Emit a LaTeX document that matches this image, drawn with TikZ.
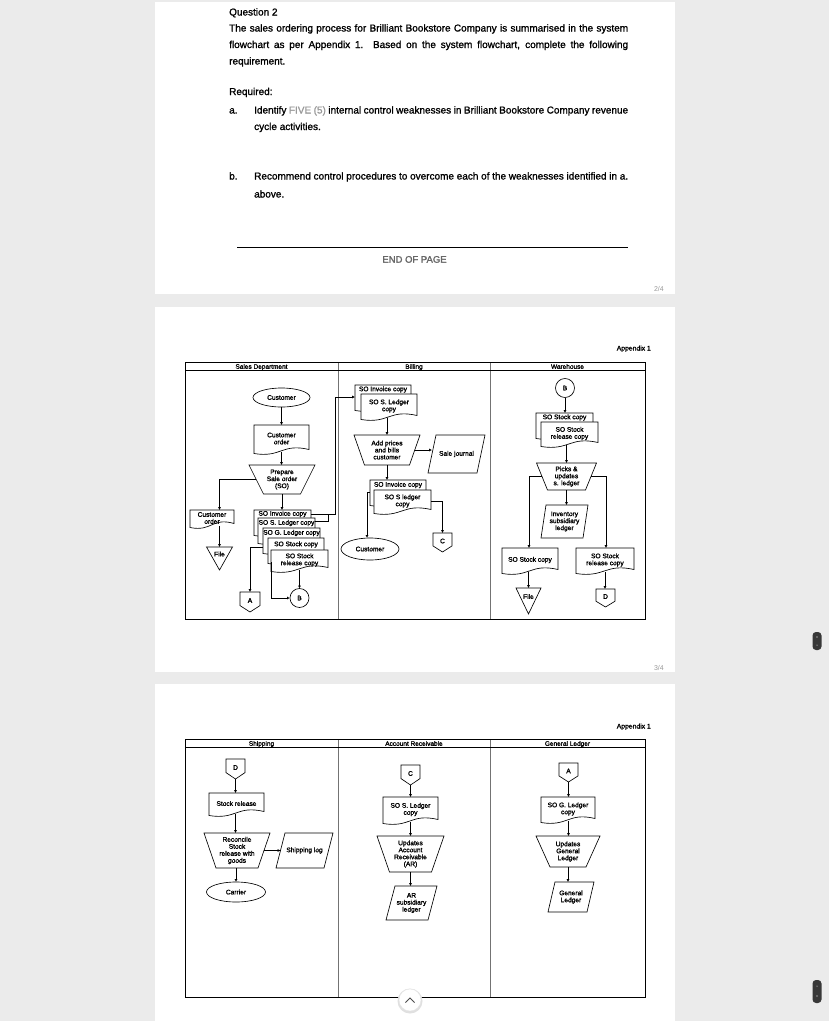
\documentclass[tikz,border=0pt]{standalone}
\usepackage{fontspec}
\setmainfont{Liberation Sans}
\newfontfamily\hvy{Liberation Sans}[FakeBold=1.2]
\newfontfamily\hvyb{Liberation Sans}[FakeBold=1.6]
\usetikzlibrary{shapes.geometric,arrows.meta,calc}

\tikzset{
  shp/.style={draw=black, fill=white, line width=0.65pt, line join=miter},
  lbl/.style={inner sep=0pt, align=center, font=\hvyb\fontsize{6.6}{7}\selectfont},
  ell/.style={shape=ellipse, draw=black, fill=white, line width=0.65pt, inner sep=0pt, font=\hvyb\fontsize{6.6}{7}\selectfont},
  circ/.style={shape=circle, draw=black, fill=white, line width=0.65pt, inner sep=0pt, minimum size=19pt, font=\hvyb\fontsize{6.6}{7}\selectfont},
  conn/.style={draw=black, line width=0.6pt, -{Triangle[open,length=2.6pt,width=2.6pt]}},
  plain/.style={draw=black, line width=0.6pt},
  body/.style={anchor=base west, inner sep=0pt, font=\hvy\fontsize{10}{12}\selectfont},
  hdr/.style={anchor=base, inner sep=0pt, font=\hvyb\fontsize{6.5}{7}\selectfont},
  frame/.style={draw=black, line width=0.8pt},
  lane/.style={draw=black!55, line width=0.7pt},
  pagenum/.style={anchor=base east, inner sep=0pt, text=black!40, font=\fontsize{7}{8}\selectfont},
  appx/.style={anchor=base east, inner sep=0pt, font=\hvyb\fontsize{6.8}{8}\selectfont},
}

% document shape: name, x0, x1, ytop, ybottom, text
\newcommand\rsdoc[6]{%
  \pgfmathsetmacro\rsxm{(#2+#3)/2}\pgfmathsetmacro\rsym{(#4+#5)/2}%
  \pgfmathsetmacro\rsw{#3-#2}\pgfmathsetmacro\rsh{#5-#4}%
  \pgfmathsetmacro\rsp{#5-2.5}\pgfmathsetmacro\rsq{#5-9}\pgfmathsetmacro\rsr{#5+6}\pgfmathsetmacro\rsz{#5+1.5}%
  \draw[shp] (#2,#4) -- (#3,#4) -- (#3,\rsp) .. controls (\rsxm,\rsq) and (\rsxm,\rsr) .. (#2,\rsz) -- cycle;
  \node[lbl, minimum width=\rsw pt, minimum height=\rsh pt] (#1) at (\rsxm,\rsym) {#6};}
% stacked document with label on its top strip: name, x0, x1, ytop, ybottom, label y, text
\newcommand\rsdocs[7]{%
  \pgfmathsetmacro\rsxm{(#2+#3)/2}\pgfmathsetmacro\rsym{(#4+#5)/2}%
  \pgfmathsetmacro\rsw{#3-#2}\pgfmathsetmacro\rsh{#5-#4}%
  \pgfmathsetmacro\rsp{#5-2.5}\pgfmathsetmacro\rsq{#5-9}\pgfmathsetmacro\rsr{#5+6}\pgfmathsetmacro\rsz{#5+1.5}%
  \draw[shp] (#2,#4) -- (#3,#4) -- (#3,\rsp) .. controls (\rsxm,\rsq) and (\rsxm,\rsr) .. (#2,\rsz) -- cycle;
  \node[lbl, minimum width=\rsw pt, minimum height=\rsh pt] (#1) at (\rsxm,\rsym) {};
  \node[lbl] (#1-t) at (\rsxm,#6) {#7};}
% manual operation: name, cx, ytop, ybottom, top half width, bottom half width, text
\newcommand\rsmanop[7]{%
  \pgfmathsetmacro\rsa{#2-#5}\pgfmathsetmacro\rsb{#2+#5}%
  \pgfmathsetmacro\rsc{#2-#6}\pgfmathsetmacro\rsd{#2+#6}%
  \pgfmathsetmacro\rsym{(#3+#4)/2}\pgfmathsetmacro\rsw{#5+#6}\pgfmathsetmacro\rsh{#4-#3}%
  \draw[shp] (\rsa,#3) -- (\rsb,#3) -- (\rsd,#4) -- (\rsc,#4) -- cycle;
  \node[lbl, minimum width=\rsw pt, minimum height=\rsh pt] (#1) at (#2,\rsym) {#7};}
% parallelogram: name, top-left x, top-right x, slant, ytop, ybottom, text
\newcommand\rspar[7]{%
  \pgfmathsetmacro\rsa{#2-#4}\pgfmathsetmacro\rsb{#3-#4}%
  \pgfmathsetmacro\rsxm{(#2+#3-#4)/2}\pgfmathsetmacro\rsym{(#5+#6)/2}%
  \pgfmathsetmacro\rsw{#3-#2}\pgfmathsetmacro\rsh{#6-#5}%
  \draw[shp] (#2,#5) -- (#3,#5) -- (\rsb,#6) -- (\rsa,#6) -- cycle;
  \node[lbl, minimum width=\rsw pt, minimum height=\rsh pt] (#1) at (\rsxm,\rsym) {#7};}
% off-page connector: name, cx, ytop, ybottom, half width, text
\newcommand\rsoff[6]{%
  \pgfmathsetmacro\rsa{#2-#5}\pgfmathsetmacro\rsb{#2+#5}%
  \pgfmathsetmacro\rsk{#3+0.68*(#4-#3)}\pgfmathsetmacro\rsym{(#3+#4)/2}%
  \pgfmathsetmacro\rsw{2*#5}\pgfmathsetmacro\rsh{#4-#3}%
  \draw[shp] (\rsa,#3) -- (\rsb,#3) -- (\rsb,\rsk) -- (#2,#4) -- (\rsa,\rsk) -- cycle;
  \node[lbl, minimum width=\rsw pt, minimum height=\rsh pt] (#1) at (#2,\rsym) {\raisebox{1.5pt}[\height][\depth]{#6}};}
% file (inverted triangle): name, cx, ytop, ybottom, half width, text
\newcommand\rstri[6]{%
  \pgfmathsetmacro\rsa{#2-#5}\pgfmathsetmacro\rsb{#2+#5}%
  \pgfmathsetmacro\rsym{(#3+#4)/2}\pgfmathsetmacro\rsw{2*#5}\pgfmathsetmacro\rsh{#4-#3}%
  \draw[shp] (\rsa,#3) -- (\rsb,#3) -- (#2,#4) -- cycle;
  \node[lbl, minimum width=\rsw pt, minimum height=\rsh pt] (#1) at (#2,\rsym) {\raisebox{4.5pt}[\height][\depth]{#6}};}

\begin{document}
\begin{tikzpicture}[x=1pt,y=-1pt]
\useasboundingbox (0,0) rectangle (829,1021);
\fill[black!8] (0,0) rectangle (829,1021);

% pages
\fill[white] (155,2) rectangle (675,294);
\fill[white] (155,307) rectangle (675,672);
\fill[white] (155,684) rectangle (675,1021);

% ---------------- page 1 text ----------------
\node[body] (q) at (229,15.5) {Question 2};
\node[body] (l1) at (229,31.5) {\makebox[399pt][s]{The sales ordering process for Brilliant Bookstore Company is summarised in the system}};
\node[body] (l2) at (229,48) {\makebox[399pt][s]{flowchart as per Appendix 1. Based on the system flowchart, complete the following}};
\node[body] (l3) at (229,64.5) {requirement.};
\node[body] (req) at (229,95) {Required:};
\node[body] (la) at (229,113.5) {a.};
\node[body] (la1) at (254,113.5) {\makebox[374pt][s]{Identify \textcolor{black!40}{FIVE (5)} internal control weaknesses in Brilliant Bookstore Company revenue}};
\node[body] (la2) at (254,130) {cycle activities.};
\node[body] (lb) at (229,179.5) {b.};
\node[body] (lb1) at (254,179.5) {\makebox[374pt][s]{Recommend control procedures to overcome each of the weaknesses identified in a.}};
\node[body] (lb2) at (254,197.5) {above.};
\coordinate (rulea) at (237,247.3);
\coordinate (ruleb) at (628,247.3);
\draw[line width=1.3pt] (rulea) -- (ruleb);
\node[anchor=base, inner sep=0pt, text=black!60, font=\hvyb\fontsize{9.5}{11}\selectfont] (eop) at (414.5,262.7) {END OF PAGE};
\node[pagenum] (p2) at (664,291) {2/4};

% ---------------- page 2: Appendix 1 ----------------
\node[appx] (apx1) at (651,350.5) {Appendix 1};
\draw[lane] (338.5,362) -- (338.5,619);
\draw[lane] (490,362) -- (490,619);
\draw[frame] (185,362) rectangle (645,619);
\draw[frame] (185,370.5) -- (645,370.5);
\node[hdr] (h1) at (261.5,368.8) {Sales Department};
\node[hdr] (h2) at (414,368.8) {Billing};
\node[hdr] (h3) at (567.5,368.8) {Warehouse};

% Sales Department
\node[ell, minimum width=57pt, minimum height=19pt] (scust) at (281.5,397.5) {Customer};
\rsdoc{sord}{254}{309}{425}{452}{Customer\\order}
\rsmanop{sprep}{282}{465}{494}{33}{18.5}{Prepare\\Sale order\\(SO)}
\rsdoc{sord2}{190}{234}{510}{526}{Customer\\order}
\rstri{sfile}{219.5}{547}{570}{13}{File}
\rsdocs{sd1}{254}{311}{510}{534}{514}{SO Invoice copy}
\rsdocs{sd2}{258}{315}{518}{542}{523}{SO S. Ledger copy}
\rsdocs{sd3}{263}{320}{528}{552}{533}{SO G. Ledger copy}
\rsdocs{sd4}{268}{324}{538}{562}{544.5}{SO Stock copy}
\rsdoc{sd5}{271}{328}{550}{570}{SO Stock\\release copy}
\rsoff{sA}{250}{592}{612}{10}{A}
\node[circ] (sB) at (299.5,598) {B};

% Billing
\rsdocs{bd1}{355}{411}{385}{409}{389.5}{SO Invoice copy}
\rsdoc{bd2}{361}{417}{394}{418}{SO S. Ledger\\copy}
\rsmanop{bt}{387}{435}{465}{33}{22.5}{Add prices\\and bills\\customer}
\rspar{sj}{436}{485}{8}{435}{473}{Sale journal}
\rsdocs{bd3}{370}{426}{480}{504}{485}{SO Invoice copy}
\rsdoc{bd4}{374}{431}{490}{512}{SO S ledger\\copy}
\node[ell, minimum width=58pt, minimum height=22pt] (bcust) at (370,549) {Customer};
\rsoff{bC}{442.5}{533}{552}{9.5}{C}

% Warehouse
\node[circ] (wB) at (565,388) {B};
\rsdocs{wd1}{536}{593}{413}{437}{417.5}{SO Stock copy}
\rsdoc{wd2}{541}{598}{422}{445}{SO Stock\\release copy}
\rsmanop{wt}{566.5}{463}{490}{30}{19}{Picks \&\\updates\\s. ledger}
\rspar{wi}{546}{588}{5}{505}{538}{Inventory\\subsidiary\\ledger}
\rsdoc{wd3}{502}{558}{548}{572}{SO Stock copy}
\rsdoc{wd4}{576}{634}{548}{572}{SO Stock\\release copy}
\rstri{wfile}{528.5}{588}{614}{12.5}{File}
\rsoff{wD}{605.5}{589}{607}{9.5}{D}

% connectors page 2
\draw[conn] (scust.south) -- (scust.south |- sord.north);
\draw[conn] (sord.south) -- (sord.south |- sprep.north);
\draw[conn] (sprep.west) -| ([xshift=7.5pt]sord2.north);
\draw[conn] ([xshift=7.5pt]sord2.south) -- ([xshift=7.5pt]sord2.south |- sfile.north);
\draw[conn] (sprep.south) -- (sprep.south |- sd1.north);
\coordinate (jA) at (335.5,397);
\coordinate (jB) at (328.5,514);
\draw[conn] ([yshift=8pt]sd1.east) -| (jA) -- (bd1.west);
\draw[plain] ([yshift=9pt]sd2.east) -| (jB);
\draw[conn] ([yshift=-7pt]sd3.west) -| (sA.north);
\draw[conn] ([xshift=3pt]sd4.south west) |- (sB.west);
\draw[conn] (sd5.south -| sB.north) -- (sB.north);

\draw[conn] (bd2.south -| bt.north) -- (bt.north);
\draw[conn] (bt.east) -- (bt.east -| sj.west);
\draw[conn] (bt.south) -- (bt.south |- bd3.north);
\coordinate (k1) at (367,492);
\draw[conn] (bd3.west) -- (k1) -- (k1 |- bcust.north);
\draw[conn] (bd4.east) -| (bC.north);

\draw[conn] (wB.south) -- (wB.south |- wd1.north);
\draw[conn] (wt.north |- wd2.south) -- (wt.north);
\draw[conn] (wt.west) -| ([xshift=-1pt]wd3.north);
\draw[conn] (wt.east) -| ([xshift=1pt]wd4.north);
\draw[conn] (wt.south) -- (wt.south |- wi.north);
\draw[conn] (wfile.north |- wd3.south) -- (wfile.north);
\draw[conn] (wd4.south) -- (wd4.south |- wD.north);

\node[pagenum] (p3) at (664,670) {3/4};

% ---------------- page 3: Appendix 1 (cont.) ----------------
\node[appx] (apx2) at (651,728.5) {Appendix 1};
\draw[lane] (338.5,739) -- (338.5,997);
\draw[lane] (490,739) -- (490,997);
\draw[frame] (185,739) rectangle (645,997);
\draw[frame] (185,747.5) -- (645,747.5);
\node[hdr] (h4) at (261.5,745.8) {Shipping};
\node[hdr] (h5) at (414,745.8) {Account Receivable};
\node[hdr] (h6) at (567.5,745.8) {General Ledger};

% Shipping
\rsoff{hD}{235.5}{759}{779}{9.5}{D}
\rsdoc{hd}{209}{264}{793}{814}{Stock release}
\rsmanop{ht}{237}{833}{868}{33}{21}{Reconcile\\Stock\\release with\\goods}
\rspar{hl}{285}{333}{9}{833}{868}{Shipping log}
\node[ell, minimum width=59pt, minimum height=20pt] (hc) at (236,892) {Carrier};

% Account Receivable
\rsoff{aC}{410.5}{765}{785}{9.5}{C}
\rsdoc{ad}{383}{438}{797}{822}{SO S. Ledger\\copy}
\rsmanop{at}{410.5}{836}{872}{33.5}{21}{Updates\\Account\\Receivable\\(AR)}
\rspar{ap}{395}{437}{9}{886}{920}{AR\\subsidiary\\ledger}

% General Ledger
\rsoff{gA}{568.5}{763}{782}{9.5}{A}
\rsdoc{gd}{541}{595}{797}{821}{SO G. Ledger\\copy}
\rsmanop{gt}{568}{836}{867}{32}{18}{Updates\\General\\Ledger}
\rspar{gp}{555}{594}{7}{882}{912}{General\\Ledger}

% connectors page 3
\draw[conn] (hD.south) -- (hD.south |- hd.north);
\draw[conn] (hD.south |- hd.south) -- (hD.south |- ht.north);
\draw[conn] (ht.east) -- (ht.east -| hl.west);
\draw[conn] (hc.north |- ht.south) -- (hc.north);

\draw[conn] (aC.south) -- (aC.south |- ad.north);
\draw[conn] (aC.south |- ad.south) -- (aC.south |- at.north);
\draw[conn] (at.south) -- (at.south |- ap.north);

\draw[conn] (gA.south) -- (gA.south |- gd.north);
\draw[conn] (gA.south |- gd.south) -- (gA.south |- gt.north);
\draw[conn] (gt.south) -- (gt.south |- gp.north);

% ---------------- viewer widgets ----------------
\fill[black!78, rounded corners=3.5pt] (812.5,632) rectangle (821.5,650);
\fill[white] (817,637) circle (0.7pt);
\fill[white] (817,645) circle (0.5pt);
\fill[black!78, rounded corners=3.5pt] (812.5,980) rectangle (821.5,1003);
\fill[white] (817,986) circle (0.5pt);
\fill[white] (817,996) circle (0.7pt);
\fill[black!12] (410,1001) circle (12.5pt);
\node[circle, fill=white, draw=black!10, minimum size=22pt, inner sep=0pt] (upbtn) at (410,1000) {};
\draw[black!70, line width=0.8pt] ($(upbtn.center)+(-4.5,2.5)$) -- ($(upbtn.center)+(0,-2)$) -- ($(upbtn.center)+(4.5,2.5)$);
\end{tikzpicture}
\end{document}
